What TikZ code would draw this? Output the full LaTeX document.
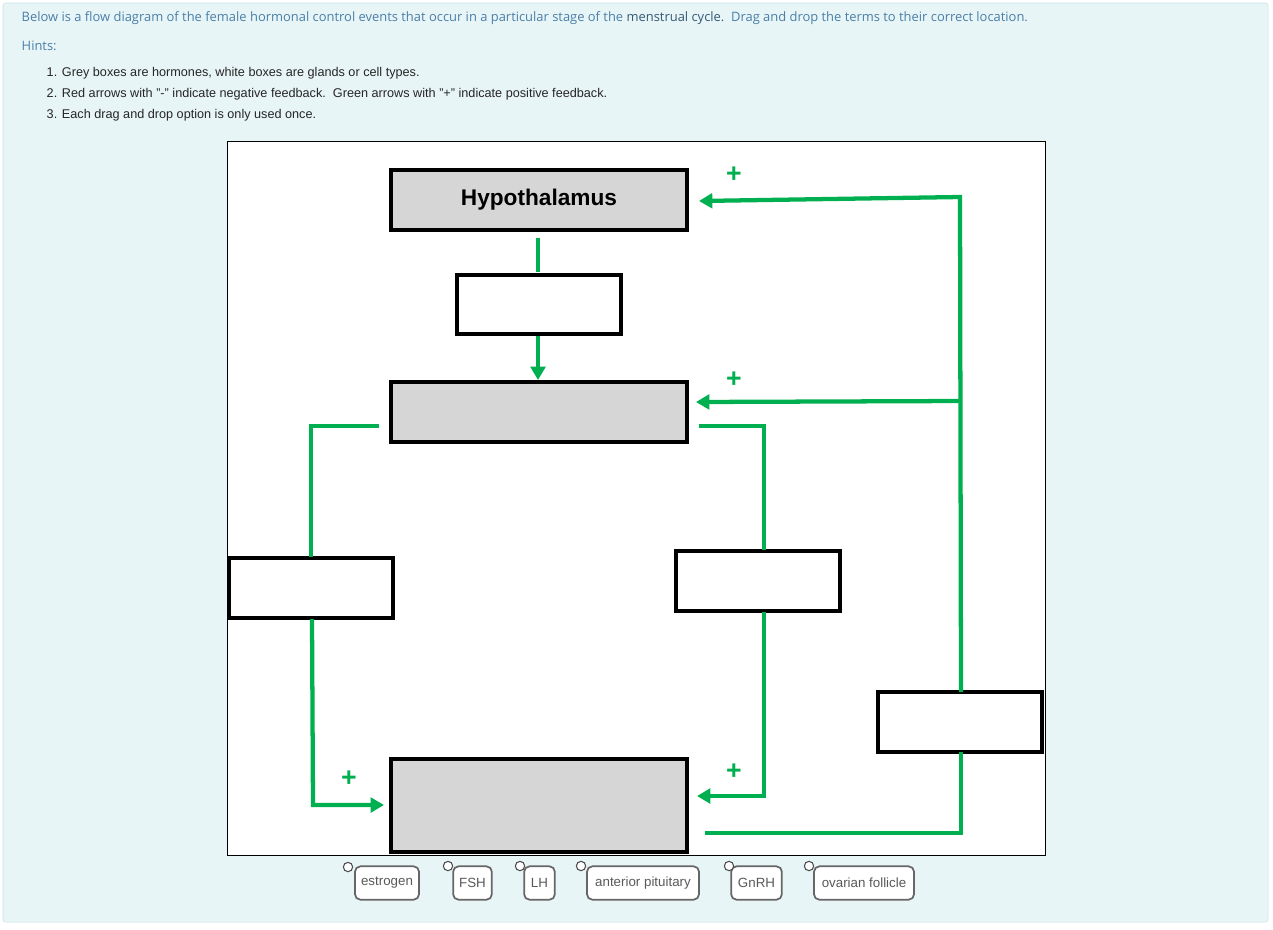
\documentclass[tikz,border=0pt]{standalone}
\usepackage{fontspec}
\setmainfont{Liberation Sans}
\newfontfamily\osans{Open Sans}
\usetikzlibrary{arrows.meta}
\definecolor{gr}{HTML}{00B050}
\definecolor{panel}{HTML}{E8F5F7}
\definecolor{panb}{HTML}{C4E3EA}
\definecolor{hint}{HTML}{4A7FA8}
\definecolor{boxg}{HTML}{D6D6D6}
\tikzset{
  wbox/.style={draw=black,line width=3pt,fill=white},
  gbox/.style={draw=black,line width=3pt,fill=boxg},
  gl/.style={draw=gr,line width=3.2pt},
  ga/.style={gl,-{Triangle[length=10pt,width=11pt]}},
  plus/.style={text=gr,font=\bfseries\fontsize{20}{20}\selectfont},
  opt/.style={draw=black!60,line width=1.3pt,rounded corners=4pt,fill=white,text=black!65,font=\fontsize{10}{12}\selectfont,minimum height=25pt,inner xsep=3pt},
  hnd/.style={circle,draw=black!70,line width=0.8pt,fill=white,minimum size=7pt,inner sep=0pt},
  hintt/.style={anchor=west,font=\fontsize{9.5}{11}\selectfont,text=black!85}
}
\begin{document}
\begin{tikzpicture}[x=0.75pt,y=-0.75pt]
\useasboundingbox (0,0) rectangle (1273,929);
\fill[white] (0,0) rectangle (1273,929);
\draw[draw=panb,fill=panel,rounded corners=2pt] (3,3) rectangle (1268,922);
\node[anchor=west,text=hint,font=\osans\fontsize{9.7}{12}\selectfont] (t1) at (17,18) {Below is a flow diagram of the female hormonal control events that occur in a particular stage of the \textcolor{hint!70!black}{menstrual cycle.}\ \ Drag and drop the terms to their correct location.};
\node[anchor=west,text=hint,font=\osans\fontsize{9.7}{12}\selectfont] (t2) at (17,46) {Hints:};
\node[hintt] (h1) at (42,73) {1. Grey boxes are hormones, white boxes are glands or cell types.};
\node[hintt] (h2) at (42,94) {2. Red arrows with "-" indicate negative feedback.\ \ Green arrows with "+" indicate positive feedback.};
\node[hintt] (h3) at (42,115) {3. Each drag and drop option is only used once.};
\draw[black,line width=0.6pt,fill=white] (227,141) rectangle (1045,855);
% boxes
\draw[gbox] (391,170) rectangle (687,230);
\node[font=\bfseries\fontsize{17}{20}\selectfont] (hyp) at (539,200) {Hypothalamus};
\draw[wbox] (457,275) rectangle (621,334);
\draw[gbox] (391,382) rectangle (687,442);
\draw[wbox] (229,558) rectangle (393,618);
\draw[wbox] (676,551) rectangle (840,611);
\draw[wbox] (878,692) rectangle (1042,752);
\draw[gbox] (391,759) rectangle (687,852);
% connectors
\coordinate (a1) at (538,238); \coordinate (a2) at (538,272);
\draw[gl] (a1) -- (a2);
\coordinate (a3) at (538,336); \coordinate (a4) at (538,380);
\draw[ga] (a3) -- (a4);
\draw[gl] (379,426) -- (311,426) -- (311,557);
\draw[ga] (312,619) -- (313,805) -- (384,805);
\draw[gl] (699,426) -- (764,426) -- (764,550);
\draw[ga] (764,612) -- (764,796) -- (697,796);
\draw[gl] (705,833) -- (961,833) -- (961,752);
\draw[ga] (961,692) -- (960,197) -- (699,201);
\draw[ga] (960,401) -- (696,402);
\node[plus] (p1) at (734,175) {+};
\node[plus] (p2) at (734,380) {+};
\node[plus] (p3) at (349,779) {+};
\node[plus] (p4) at (734,772) {+};
% options
\node[opt,minimum width=48pt] (o1) at (387,883) {estrogen};
\node[opt,minimum width=29pt] (o2) at (472.5,883) {FSH};
\node[opt,minimum width=23pt] (o3) at (539.5,883) {LH};
\node[opt,minimum width=84pt] (o4) at (643,883) {anterior pituitary};
\node[opt,minimum width=38pt] (o5) at (756.5,883) {GnRH};
\node[opt,minimum width=75pt] (o6) at (864,883) {ovarian follicle};
\foreach \x/\y in {348/867,448/866,520/866,581/866,729/866,809/866} \node[hnd] at (\x,\y) {};
\end{tikzpicture}
\end{document}
